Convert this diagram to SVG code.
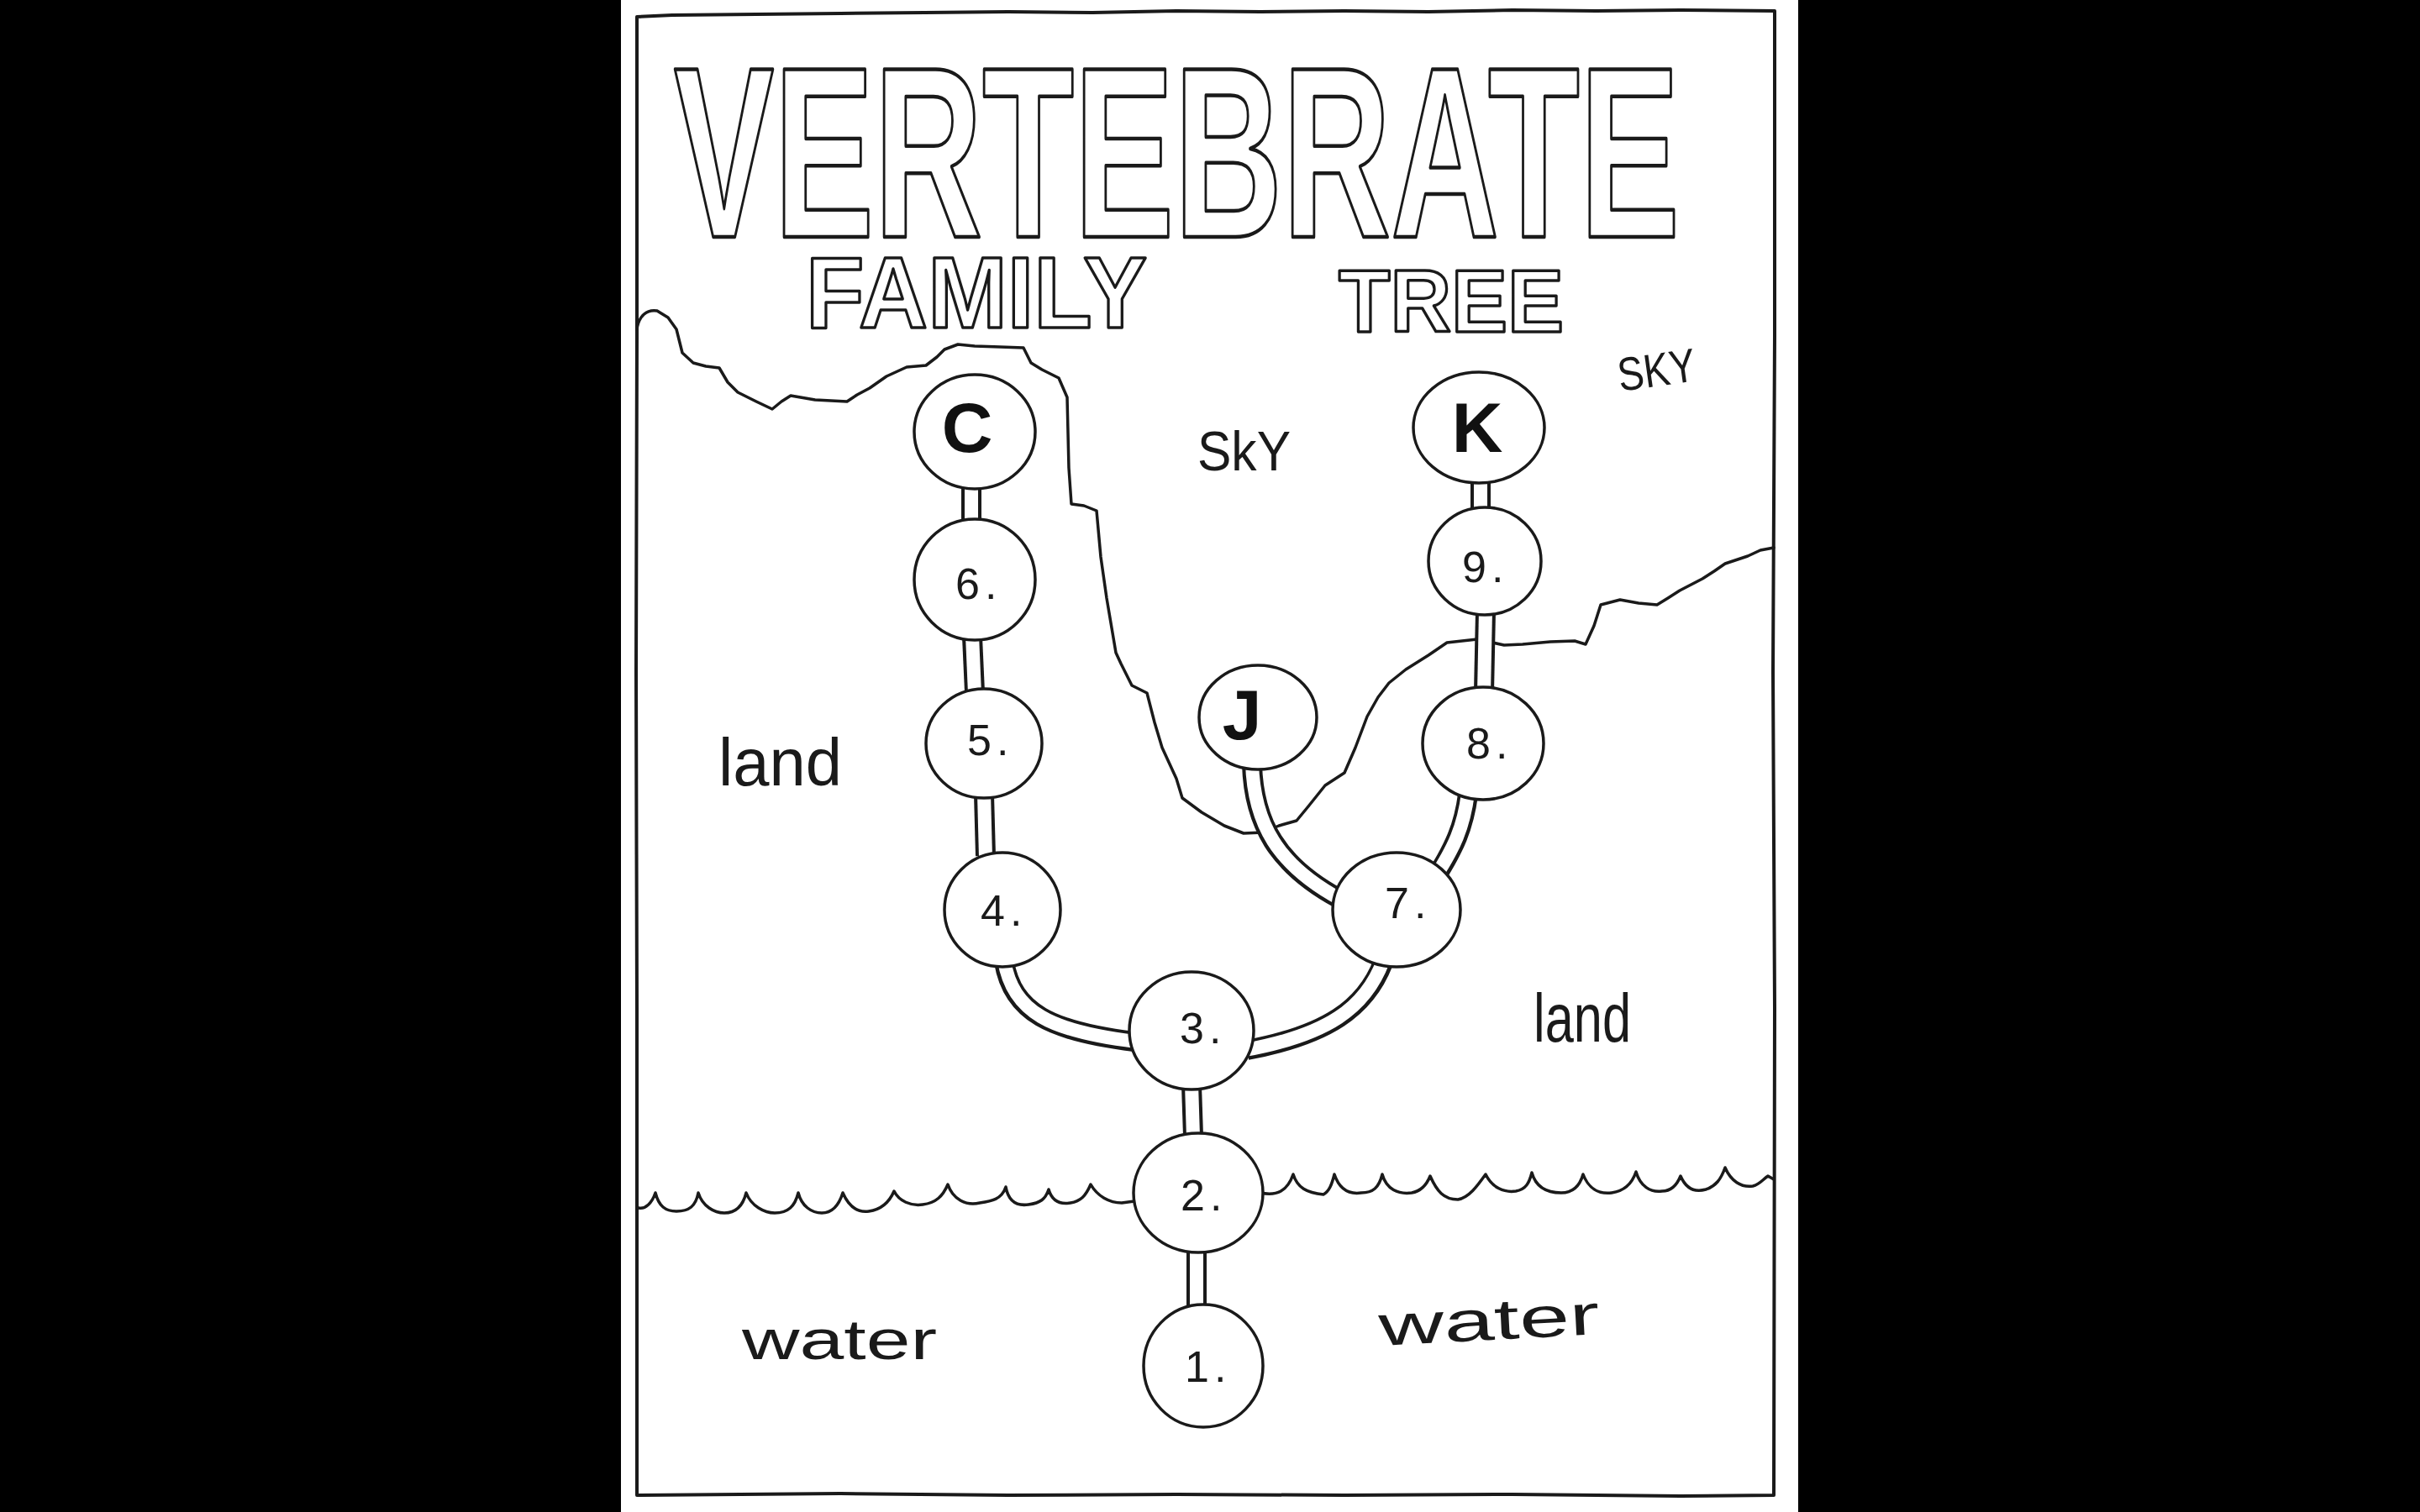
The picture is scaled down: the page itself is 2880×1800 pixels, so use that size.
<svg xmlns="http://www.w3.org/2000/svg" width="2880" height="1800" viewBox="0 0 2880 1800">
<style>
.ln{fill:none;stroke:#1a1a1a;stroke-width:3.5;stroke-linejoin:round;stroke-linecap:round}
.node{fill:#fff;stroke:#1a1a1a;stroke-width:3.5}
.tubeO{fill:none;stroke:#1a1a1a;stroke-width:24;stroke-linecap:butt}
.tubeI{fill:none;stroke:#fff;stroke-width:16;stroke-linecap:butt}
.num{font-family:"Liberation Sans",Arial,sans-serif;font-size:52px;fill:#1a1a1a;letter-spacing:6px}
.big{font-family:"Liberation Sans",Arial,sans-serif;font-weight:bold;font-size:84px;fill:#111}
.hand{font-family:"Liberation Sans",Arial,sans-serif;fill:#1a1a1a}
.title{font-family:"Liberation Sans",Arial,sans-serif;fill:#fff;stroke:#1a1a1a;stroke-width:4.5;stroke-linejoin:round}
</style>
<rect x="0" y="0" width="2880" height="1800" fill="#000"/>
<rect x="739" y="0" width="1401" height="1800" fill="#fff"/>
<path class="ln" d="M758 20 L800 18 L900 17 L1000 16 L1100 15 L1200 14 L1300 15 L1400 13 L1500 14 L1600 13 L1700 14 L1800 12 L1900 13 L2000 12 L2112 13 L2112 400 L2110 800 L2112 1200 L2111 1780 L2000 1781 L1800 1779 L1600 1780 L1400 1779 L1200 1780 L1000 1778 L758 1780 L758 1200 L757 800 L758 400 Z" style="stroke-width:4"/>

<g id="title">
<text class="title" x="802" y="282" font-size="290" font-weight="bold" textLength="1197" lengthAdjust="spacingAndGlyphs">VERTEBRATE</text>
<text class="title" x="959" y="390" font-size="120" font-weight="bold" textLength="406" lengthAdjust="spacingAndGlyphs" style="stroke-width:3.5">FAMILY</text>
<text class="title" x="1593" y="395" font-size="106" font-weight="bold" textLength="268" lengthAdjust="spacingAndGlyphs" style="stroke-width:3.5">TREE</text>
</g>

<g id="terrain">
<path class="ln" d="M758 392 C760 376 770 368 782 370 L795 378 L805 392 L812 420 L825 432 L840 436 L856 438 L866 455 L878 467 L900 478 L919 487 L930 478 L941 471 L970 476 L1008 478 L1020 470 L1035 462 L1055 448 L1079 437 L1102 435 L1115 425 L1124 416 L1140 410 L1160 412 L1190 413 L1218 414 L1227 432 L1240 440 L1260 450 L1270 473 L1272 557 L1275 600 L1290 602 L1305 608 L1310 663 L1317 712 L1328 777 L1334 790 L1347 816 L1365 825 L1374 860 L1383 890 L1400 927 L1407 950 L1430 967 L1457 983 L1480 992 L1503 991 L1522 983 L1543 977 L1557 960 L1577 935 L1600 920 L1613 890 L1627 853 L1640 830 L1653 813 L1673 797 L1700 780 L1722 765 L1758 761 L1790 768 L1812 767 L1845 764 L1874 763 L1887 767 L1897 745 L1905 720 L1928 714 L1950 718 L1972 720 L1985 712 L1999 703 L2026 689 L2040 680 L2053 671 L2080 662 L2095 655 L2111 652"/>
<path class="ln" d="M760 1438 C768 1440 776 1432 780 1420 C784 1436 792 1442 805 1442 C820 1442 828 1436 831 1420 C836 1436 850 1444 862 1444 C876 1444 884 1436 888 1420 C894 1436 910 1444 922 1444 C938 1444 946 1436 950 1420 C954 1436 966 1444 978 1444 C990 1444 998 1436 1003 1420 C1010 1436 1020 1444 1034 1442 C1048 1440 1058 1432 1064 1418 C1070 1430 1084 1436 1098 1434 C1114 1432 1122 1424 1128 1410 C1134 1428 1150 1436 1166 1432 C1180 1430 1192 1428 1197 1413 C1200 1430 1210 1436 1224 1434 C1238 1432 1244 1428 1248 1416 C1252 1430 1262 1434 1274 1432 C1286 1430 1292 1424 1298 1410 C1306 1424 1320 1432 1335 1432 L1350 1430"/>
<path class="ln" d="M1500 1420 C1520 1424 1532 1418 1539 1398 C1544 1414 1555 1420 1575 1422 C1582 1418 1585 1410 1588 1398 C1594 1416 1606 1422 1620 1420 C1634 1420 1641 1414 1645 1398 C1650 1416 1664 1422 1680 1420 C1692 1418 1698 1410 1702 1400 C1710 1418 1718 1428 1735 1428 C1748 1426 1758 1412 1768 1398 C1776 1414 1790 1420 1804 1418 C1816 1416 1820 1408 1823 1396 C1828 1414 1842 1420 1858 1420 C1872 1420 1880 1412 1884 1398 C1890 1414 1902 1422 1918 1420 C1932 1418 1942 1410 1947 1395 C1952 1412 1964 1420 1978 1418 C1990 1418 1996 1410 2000 1400 C2006 1414 2016 1420 2030 1416 C2042 1412 2048 1404 2053 1390 C2060 1406 2072 1414 2086 1412 C2094 1410 2098 1404 2104 1400 L2111 1404"/>
</g>

<g id="connectors">
<path class="tubeO" d="M1156 578 L1156 622"/><path class="tubeI" d="M1156 576 L1156 624"/>
<path class="tubeO" d="M1157 758 L1160 824"/><path class="tubeI" d="M1157 756 L1160 826"/>
<path class="tubeO" d="M1171 946 L1173 1019"/><path class="tubeI" d="M1171 944 L1173 1021"/>
<path class="tubeO" d="M1195 1145 C1205 1205 1250 1228 1350 1240"/><path class="tubeI" d="M1195 1143 C1205 1205 1250 1228 1352 1240"/>
<path class="tubeO" d="M1646 1146 C1625 1200 1580 1232 1484 1250"/><path class="tubeI" d="M1646 1144 C1625 1200 1580 1232 1482 1250"/>
<path class="tubeO" d="M1418 1292 L1420 1352"/><path class="tubeI" d="M1418 1290 L1420 1354"/>
<path class="tubeO" d="M1424 1488 L1424 1558"/><path class="tubeI" d="M1424 1486 L1424 1560"/>
<path class="tubeO" d="M1762 570 L1762 608"/><path class="tubeI" d="M1762 568 L1762 610"/>
<path class="tubeO" d="M1768 728 L1766 824"/><path class="tubeI" d="M1768 726 L1766 826"/>
<path class="tubeO" d="M1490 910 C1492 980 1520 1030 1594 1070"/><path class="tubeI" d="M1490 908 C1492 980 1520 1030 1596 1071"/>
<path class="tubeO" d="M1747 946 C1742 985 1730 1010 1710 1042"/><path class="tubeI" d="M1747 944 C1742 985 1730 1010 1708 1044"/>
</g>

<g id="node-C"><ellipse class="node" cx="1160" cy="514" rx="72" ry="68"/><text class="big" x="1151" y="538" text-anchor="middle">C</text></g>
<g id="node-6"><ellipse class="node" cx="1160" cy="690" rx="72" ry="72"/><text class="num" x="1137" y="713">6.</text></g>
<g id="node-5"><ellipse class="node" cx="1171" cy="885" rx="69" ry="65"/><text class="num" x="1151" y="899">5.</text></g>
<g id="node-4"><ellipse class="node" cx="1193" cy="1083" rx="69" ry="68"/><text class="num" x="1167" y="1102">4.</text></g>
<g id="node-3"><ellipse class="node" cx="1418" cy="1227" rx="74" ry="70"/><text class="num" x="1404" y="1242">3.</text></g>
<g id="node-2"><ellipse class="node" cx="1426" cy="1420" rx="77" ry="71"/><text class="num" x="1405" y="1441">2.</text></g>
<g id="node-1"><ellipse class="node" cx="1432" cy="1626" rx="71" ry="73"/><text class="num" x="1410" y="1645">1.</text></g>
<g id="node-7"><ellipse class="node" cx="1662" cy="1083" rx="76" ry="68"/><text class="num" x="1648" y="1093">7.</text></g>
<g id="node-J"><ellipse class="node" cx="1497" cy="854" rx="70" ry="62"/><text class="big" x="1478" y="880" text-anchor="middle">J</text></g>
<g id="node-8"><ellipse class="node" cx="1765" cy="885" rx="72" ry="67"/><text class="num" x="1745" y="903">8.</text></g>
<g id="node-9"><ellipse class="node" cx="1767" cy="668" rx="67" ry="64"/><text class="num" x="1740" y="693">9.</text></g>
<g id="node-K"><ellipse class="node" cx="1760" cy="509" rx="78" ry="66"/><text class="big" x="1758" y="538" text-anchor="middle" font-size="90">K</text></g>

<g id="labels">
<text class="hand" x="855" y="935" font-size="80" textLength="147" lengthAdjust="spacingAndGlyphs">land</text>
<text class="hand" x="1825" y="1240" font-size="82" textLength="116" lengthAdjust="spacingAndGlyphs">land</text>
<text class="hand" x="883" y="1618" font-size="66" textLength="232" lengthAdjust="spacingAndGlyphs">water</text>
<text class="hand" x="1642" y="1602" font-size="68" textLength="263" lengthAdjust="spacingAndGlyphs" transform="rotate(-3 1642 1602)">water</text>
<text class="hand" x="1425" y="560" font-size="66" textLength="111" lengthAdjust="spacingAndGlyphs">SkY</text>
<text class="hand" x="1928" y="466" font-size="56" textLength="93" lengthAdjust="spacingAndGlyphs" transform="rotate(-8 1928 466)">SKY</text>
</g>
</svg>
